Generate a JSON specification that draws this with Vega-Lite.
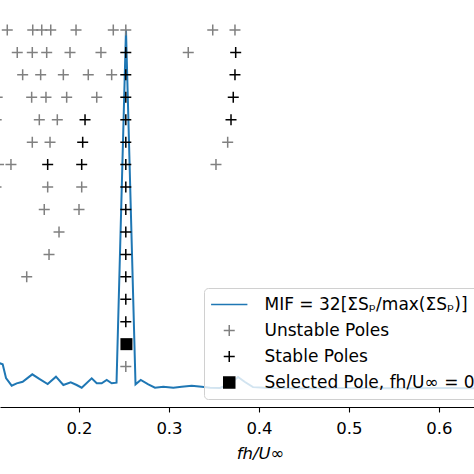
{
  "$schema": "https://vega.github.io/schema/vega-lite/v6.json",
  "width": 474,
  "height": 395,
  "autosize": {"type": "none"},
  "padding": {"top": 12, "left": 0, "right": 0, "bottom": 67},
  "background": "white",
  "config": {"view": {"stroke": null}},
  "datasets": {
    "mif": [
      {"f": 0.1000, "v": 2.30, "type": "MIF = 32[ΣSₚ/max(ΣSₚ)]"},
      {"f": 0.1122, "v": 2.29, "type": "MIF = 32[ΣSₚ/max(ΣSₚ)]"},
      {"f": 0.1152, "v": 2.21, "type": "MIF = 32[ΣSₚ/max(ΣSₚ)]"},
      {"f": 0.1189, "v": 0.98, "type": "MIF = 32[ΣSₚ/max(ΣSₚ)]"},
      {"f": 0.1252, "v": 0.30, "type": "MIF = 32[ΣSₚ/max(ΣSₚ)]"},
      {"f": 0.1308, "v": 0.51, "type": "MIF = 32[ΣSₚ/max(ΣSₚ)]"},
      {"f": 0.1374, "v": 0.65, "type": "MIF = 32[ΣSₚ/max(ΣSₚ)]"},
      {"f": 0.1481, "v": 1.31, "type": "MIF = 32[ΣSₚ/max(ΣSₚ)]"},
      {"f": 0.1559, "v": 0.90, "type": "MIF = 32[ΣSₚ/max(ΣSₚ)]"},
      {"f": 0.1652, "v": 0.45, "type": "MIF = 32[ΣSₚ/max(ΣSₚ)]"},
      {"f": 0.1744, "v": 1.10, "type": "MIF = 32[ΣSₚ/max(ΣSₚ)]"},
      {"f": 0.1826, "v": 0.36, "type": "MIF = 32[ΣSₚ/max(ΣSₚ)]"},
      {"f": 0.1908, "v": 0.60, "type": "MIF = 32[ΣSₚ/max(ΣSₚ)]"},
      {"f": 0.1974, "v": 0.36, "type": "MIF = 32[ΣSₚ/max(ΣSₚ)]"},
      {"f": 0.2030, "v": 0.12, "type": "MIF = 32[ΣSₚ/max(ΣSₚ)]"},
      {"f": 0.2141, "v": 0.95, "type": "MIF = 32[ΣSₚ/max(ΣSₚ)]"},
      {"f": 0.2197, "v": 0.51, "type": "MIF = 32[ΣSₚ/max(ΣSₚ)]"},
      {"f": 0.2252, "v": 0.51, "type": "MIF = 32[ΣSₚ/max(ΣSₚ)]"},
      {"f": 0.2308, "v": 0.81, "type": "MIF = 32[ΣSₚ/max(ΣSₚ)]"},
      {"f": 0.2363, "v": 0.51, "type": "MIF = 32[ΣSₚ/max(ΣSₚ)]"},
      {"f": 0.2417, "v": 0.57, "type": "MIF = 32[ΣSₚ/max(ΣSₚ)]"},
      {"f": 0.2522, "v": 32.0, "type": "MIF = 32[ΣSₚ/max(ΣSₚ)]"},
      {"f": 0.2628, "v": 0.42, "type": "MIF = 32[ΣSₚ/max(ΣSₚ)]"},
      {"f": 0.2686, "v": 0.81, "type": "MIF = 32[ΣSₚ/max(ΣSₚ)]"},
      {"f": 0.2770, "v": 0.42, "type": "MIF = 32[ΣSₚ/max(ΣSₚ)]"},
      {"f": 0.2844, "v": 0.12, "type": "MIF = 32[ΣSₚ/max(ΣSₚ)]"},
      {"f": 0.2937, "v": 0.21, "type": "MIF = 32[ΣSₚ/max(ΣSₚ)]"},
      {"f": 0.3048, "v": 0.12, "type": "MIF = 32[ΣSₚ/max(ΣSₚ)]"},
      {"f": 0.3141, "v": 0.21, "type": "MIF = 32[ΣSₚ/max(ΣSₚ)]"},
      {"f": 0.3252, "v": 0.30, "type": "MIF = 32[ΣSₚ/max(ΣSₚ)]"},
      {"f": 0.3363, "v": 0.21, "type": "MIF = 32[ΣSₚ/max(ΣSₚ)]"},
      {"f": 0.3456, "v": 0.12, "type": "MIF = 32[ΣSₚ/max(ΣSₚ)]"},
      {"f": 0.3567, "v": 0.09, "type": "MIF = 32[ΣSₚ/max(ΣSₚ)]"},
      {"f": 0.3678, "v": 0.45, "type": "MIF = 32[ΣSₚ/max(ΣSₚ)]"},
      {"f": 0.3767, "v": 1.07, "type": "MIF = 32[ΣSₚ/max(ΣSₚ)]"},
      {"f": 0.3844, "v": 0.63, "type": "MIF = 32[ΣSₚ/max(ΣSₚ)]"},
      {"f": 0.3933, "v": 0.17, "type": "MIF = 32[ΣSₚ/max(ΣSₚ)]"},
      {"f": 0.4122, "v": 0.09, "type": "MIF = 32[ΣSₚ/max(ΣSₚ)]"},
      {"f": 0.4456, "v": 0.08, "type": "MIF = 32[ΣSₚ/max(ΣSₚ)]"},
      {"f": 0.5011, "v": 0.10, "type": "MIF = 32[ΣSₚ/max(ΣSₚ)]"},
      {"f": 0.5567, "v": 0.08, "type": "MIF = 32[ΣSₚ/max(ΣSₚ)]"},
      {"f": 0.6122, "v": 0.09, "type": "MIF = 32[ΣSₚ/max(ΣSₚ)]"},
      {"f": 0.6456, "v": 0.08, "type": "MIF = 32[ΣSₚ/max(ΣSₚ)]"}
    ],
    "poles": [
      {"f": 0.1203, "order": 32, "type": "Unstable Poles"},
      {"f": 0.1486, "order": 32, "type": "Unstable Poles"},
      {"f": 0.1586, "order": 32, "type": "Unstable Poles"},
      {"f": 0.1686, "order": 32, "type": "Unstable Poles"},
      {"f": 0.1967, "order": 32, "type": "Unstable Poles"},
      {"f": 0.2381, "order": 32, "type": "Unstable Poles"},
      {"f": 0.2520, "order": 32, "type": "Unstable Poles"},
      {"f": 0.3486, "order": 32, "type": "Unstable Poles"},
      {"f": 0.3733, "order": 32, "type": "Unstable Poles"},
      {"f": 0.1314, "order": 30, "type": "Unstable Poles"},
      {"f": 0.1481, "order": 30, "type": "Unstable Poles"},
      {"f": 0.1641, "order": 30, "type": "Unstable Poles"},
      {"f": 0.1900, "order": 30, "type": "Unstable Poles"},
      {"f": 0.2244, "order": 30, "type": "Unstable Poles"},
      {"f": 0.3214, "order": 30, "type": "Unstable Poles"},
      {"f": 0.2520, "order": 30, "type": "Stable Poles"},
      {"f": 0.3741, "order": 30, "type": "Stable Poles"},
      {"f": 0.1374, "order": 28, "type": "Unstable Poles"},
      {"f": 0.1574, "order": 28, "type": "Unstable Poles"},
      {"f": 0.1826, "order": 28, "type": "Unstable Poles"},
      {"f": 0.2103, "order": 28, "type": "Unstable Poles"},
      {"f": 0.2363, "order": 28, "type": "Unstable Poles"},
      {"f": 0.2520, "order": 28, "type": "Stable Poles"},
      {"f": 0.3733, "order": 28, "type": "Stable Poles"},
      {"f": 0.1091, "order": 26, "type": "Unstable Poles"},
      {"f": 0.1474, "order": 26, "type": "Unstable Poles"},
      {"f": 0.1633, "order": 26, "type": "Unstable Poles"},
      {"f": 0.1863, "order": 26, "type": "Unstable Poles"},
      {"f": 0.2197, "order": 26, "type": "Unstable Poles"},
      {"f": 0.2520, "order": 26, "type": "Stable Poles"},
      {"f": 0.3714, "order": 26, "type": "Stable Poles"},
      {"f": 0.1080, "order": 24, "type": "Unstable Poles"},
      {"f": 0.1559, "order": 24, "type": "Unstable Poles"},
      {"f": 0.1759, "order": 24, "type": "Unstable Poles"},
      {"f": 0.2067, "order": 24, "type": "Stable Poles"},
      {"f": 0.2520, "order": 24, "type": "Stable Poles"},
      {"f": 0.3689, "order": 24, "type": "Stable Poles"},
      {"f": 0.1481, "order": 22, "type": "Unstable Poles"},
      {"f": 0.1678, "order": 22, "type": "Unstable Poles"},
      {"f": 0.2041, "order": 22, "type": "Stable Poles"},
      {"f": 0.2520, "order": 22, "type": "Stable Poles"},
      {"f": 0.3652, "order": 22, "type": "Unstable Poles"},
      {"f": 0.1106, "order": 20, "type": "Unstable Poles"},
      {"f": 0.1244, "order": 20, "type": "Unstable Poles"},
      {"f": 0.1652, "order": 20, "type": "Stable Poles"},
      {"f": 0.2030, "order": 20, "type": "Stable Poles"},
      {"f": 0.2520, "order": 20, "type": "Stable Poles"},
      {"f": 0.3522, "order": 20, "type": "Unstable Poles"},
      {"f": 0.1078, "order": 18, "type": "Unstable Poles"},
      {"f": 0.1652, "order": 18, "type": "Unstable Poles"},
      {"f": 0.2030, "order": 18, "type": "Unstable Poles"},
      {"f": 0.2520, "order": 18, "type": "Stable Poles"},
      {"f": 0.1614, "order": 16, "type": "Unstable Poles"},
      {"f": 0.2000, "order": 16, "type": "Unstable Poles"},
      {"f": 0.2520, "order": 16, "type": "Stable Poles"},
      {"f": 0.1778, "order": 14, "type": "Unstable Poles"},
      {"f": 0.2520, "order": 14, "type": "Stable Poles"},
      {"f": 0.1667, "order": 12, "type": "Unstable Poles"},
      {"f": 0.2520, "order": 12, "type": "Stable Poles"},
      {"f": 0.1419, "order": 10, "type": "Unstable Poles"},
      {"f": 0.2520, "order": 10, "type": "Stable Poles"},
      {"f": 0.2520, "order": 8, "type": "Stable Poles"},
      {"f": 0.2520, "order": 6, "type": "Stable Poles"},
      {"f": 0.2520, "order": 2, "type": "Unstable Poles"}
    ],
    "selected": [
      {"f": 0.2527, "order": 4, "type": "Selected Pole, fh/U∞ = 0.25"}
    ]
  },
  "encoding": {
    "x": {"field": "f", "type": "quantitative",
      "scale": {"domain": [0.112222, 0.638889], "nice": false, "zero": false},
      "axis": {"values": [0.2, 0.3, 0.4, 0.5, 0.6], "format": ".1f", "grid": false,
        "domainColor": "black", "domainWidth": 1.1, "tickColor": "black", "tickSize": 5, "tickWidth": 1.1,
        "labelFont": "DejaVu Sans", "labelFontSize": 16.5, "labelColor": "black", "labelPadding": 8,
        "title": "fh/U∞", "titleFont": "DejaVu Sans", "titleFontSize": 16.5, "titleFontStyle": "italic",
        "titleFontWeight": "normal", "titleColor": "black", "titleX": 260, "titleY": 46,
        "titleBaseline": "middle", "titleAlign": "center"}},
    "color": {"field": "type", "type": "nominal",
      "scale": {"domain": ["MIF = 32[ΣSₚ/max(ΣSₚ)]", "Unstable Poles", "Stable Poles", "Selected Pole, fh/U∞ = 0.25"],
                "range": ["#1f77b4", "#808080", "black", "black"]},
      "legend": {"orient": "none", "legendX": 204, "legendY": 276, "title": null,
        "symbolSize": 121, "symbolOffset": 8.75, "labelOffset": 26.75, "labelLimit": 500,
        "labelFont": "DejaVu Sans", "labelFontSize": 17, "labelColor": "black",
        "padding": 8, "rowPadding": 8, "fillColor": "rgba(255,255,255,0.8)", "strokeColor": "#d0d0d0",
        "cornerRadius": 4}}
  },
  "layer": [
    {
      "mark": {"type": "rule", "color": "black", "strokeWidth": 1.1},
      "encoding": {"y": {"datum": 33.6, "type": "quantitative", "scale": {"domain": [-1.6, 33.6], "nice": false, "zero": false}, "axis": null},
                   "x": null, "color": null}
    },
    {
      "data": {"name": "mif"},
      "mark": {"type": "line", "strokeWidth": 2},
      "encoding": {
        "y": {"field": "v", "type": "quantitative", "axis": null}
      }
    },
    {
      "data": {"name": "poles"},
      "mark": {"type": "point", "filled": false, "strokeWidth": 1.5, "size": 121, "opacity": 1},
      "encoding": {
        "y": {"field": "order", "type": "quantitative", "axis": null},
        "shape": {"field": "type", "type": "nominal",
          "scale": {"domain": ["MIF = 32[ΣSₚ/max(ΣSₚ)]", "Unstable Poles", "Stable Poles", "Selected Pole, fh/U∞ = 0.25"],
                    "range": ["M-3.3,0L3.3,0", "M-1,0L1,0M0,-1L0,1", "M-1,0L1,0M0,-1L0,1", "square"]},
          "legend": {"orient": "none", "legendX": 204, "legendY": 276, "title": null,
            "symbolSize": 121, "symbolOffset": 8.75, "labelOffset": 26.75, "labelLimit": 500,
            "labelFont": "DejaVu Sans", "labelFontSize": 17, "labelColor": "black",
            "padding": 8, "rowPadding": 8, "fillColor": "rgba(255,255,255,0.8)", "strokeColor": "#d0d0d0",
            "cornerRadius": 4}}
      }
    },
    {
      "data": {"name": "selected"},
      "mark": {"type": "point", "filled": true, "size": 144, "opacity": 1},
      "encoding": {
        "y": {"field": "order", "type": "quantitative", "axis": null},
        "shape": {"field": "type", "type": "nominal"}
      }
    }
  ]
}
